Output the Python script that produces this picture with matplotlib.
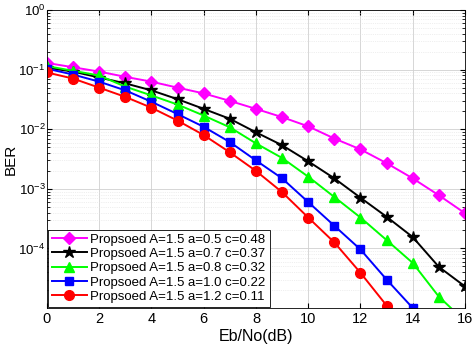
import numpy as np
import matplotlib
matplotlib.use('Agg')
import matplotlib.pyplot as plt
from matplotlib.ticker import LogLocator, NullFormatter

# BER curves
ebno = np.arange(0, 17)

ber_a05 = [0.13, 0.11, 0.093, 0.076, 0.063, 0.05, 0.04, 0.030, 0.022, 0.016,
           0.0112, 0.0070, 0.0046, 0.0027, 0.0015, 0.00078, 0.00039]
ber_a07 = [0.108, 0.093, 0.074, 0.059, 0.045, 0.032, 0.022, 0.015, 0.0089,
           0.0054, 0.0029, 0.0015, 0.00071, 0.00034, 0.000155, 4.9e-5, 2.3e-5]
ber_a08 = [0.115, 0.096, 0.08, 0.052, 0.037, 0.026, 0.017, 0.0108, 0.0058,
           0.0033, 0.0016, 0.00073, 0.00033, 0.000138, 5.7e-5, 1.55e-5, 6e-6]
ber_a10 = [0.104, 0.083, 0.063, 0.045, 0.029, 0.018, 0.011, 0.0061, 0.003,
           0.0015, 0.0006, 0.00024, 9.6e-5, 3.0e-5, 1.0e-5]
ber_a12 = [0.09, 0.071, 0.05, 0.035, 0.023, 0.014, 0.008, 0.0041, 0.002,
           0.00088, 0.00033, 0.000126, 3.9e-5, 1.1e-5]

labels = ['Propsoed A=1.5 a=0.5 c=0.48',
          'Propsoed A=1.5 a=0.7 c=0.37',
          'Propsoed A=1.5 a=0.8 c=0.32',
          'Propsoed A=1.5 a=1.0 c=0.22',
          'Propsoed A=1.5 a=1.2 c=0.11']

plt.rcParams['font.family'] = ['Liberation Sans', 'DejaVu Sans']
plt.rcParams['mathtext.default'] = 'regular'

fig = plt.figure(figsize=(4.74, 3.5), dpi=100)
ax = fig.add_axes([0.099, 0.12, 0.882, 0.851])

series = [
    (ber_a05, '#ff00ff', 'D', 6),
    (ber_a07, 'k', '*', 9),
    (ber_a08, '#00ff00', '^', 7),
    (ber_a10, '#0000ff', 's', 6),
    (ber_a12, '#ff0000', 'o', 7),
]
for (ber, col, mk, ms), lab in zip(series, labels):
    ax.semilogy(ebno[:len(ber)], ber, color=col, marker=mk, markersize=ms,
                linewidth=1.4, label=lab)

ax.set_xlim(0, 16)
ax.set_ylim(1e-5, 1)
ax.set_xticks(np.arange(0, 17, 2))
ax.yaxis.set_minor_locator(LogLocator(base=10, subs=np.arange(2, 10), numticks=10))
ax.yaxis.set_minor_formatter(NullFormatter())
ax.set_yticks([1e-4, 1e-3, 1e-2, 1e-1, 1])
ax.set_yticklabels(['$10^{-4}$', '$10^{-3}$', '$10^{-2}$', '$10^{-1}$', '$10^{0}$'])

ax.grid(True, which='major', color='#d0d0d0', linewidth=0.6)
ax.grid(True, which='minor', color='#e0e0e0', linewidth=0.5, linestyle=':')
ax.tick_params(which='both', direction='in', top=True, right=True, labelsize=10.5, pad=3)
ax.tick_params(axis='y', labelsize=9.5, pad=1)
for s in ax.spines.values():
    s.set_linewidth(0.6)

ax.set_xlabel('Eb/No(dB)', fontsize=11.5, labelpad=2)
ax.set_ylabel('BER', fontsize=11)
ax.yaxis.set_label_coords(-0.07, 0.5)

leg = ax.legend(loc='lower left', fontsize=9.5, handlelength=2.6,
                borderaxespad=0.1, fancybox=False, framealpha=1,
                edgecolor='k', labelspacing=0.15, borderpad=0.3,
                handletextpad=0.3)
leg.get_frame().set_linewidth(0.6)

fig.savefig('out.png', dpi=100)
